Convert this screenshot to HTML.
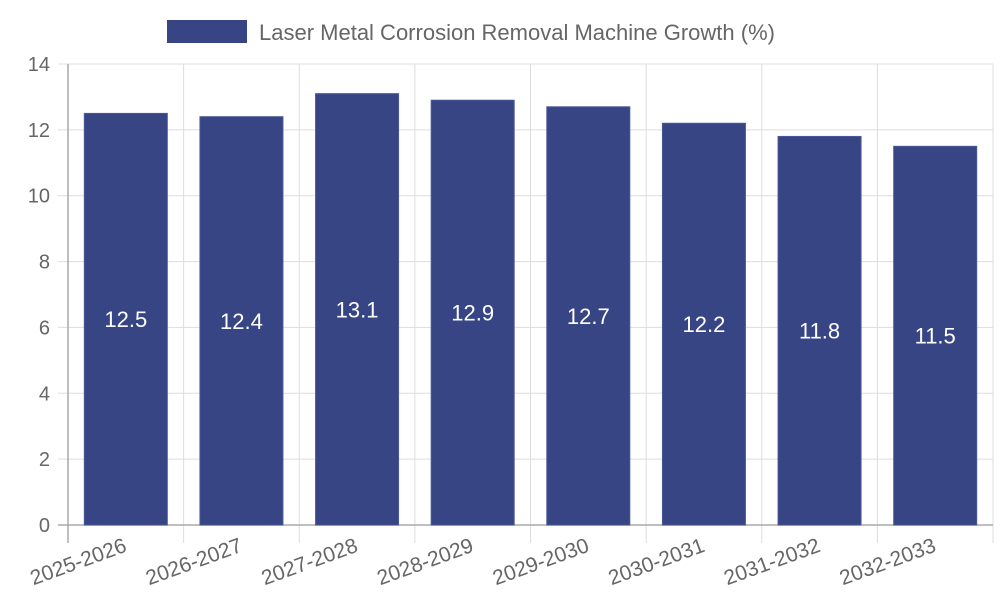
<!DOCTYPE html>
<html><head><meta charset="utf-8"><style>
html,body{margin:0;padding:0;background:#fff;}
svg{display:block;font-family:"Liberation Sans",sans-serif;}
</style></head><body>
<svg id="chart" width="1000" height="600">
<g>
<rect x="167" y="20" width="80" height="23" fill="#374584"/>
<text x="259" y="40" font-size="22" fill="#666">Laser Metal Corrosion Removal Machine Growth (%)</text>
</g>
<g id="grid"></g><g id="bars"></g><g id="labels"></g>
</svg>
<script>
const categories=["2025-2026","2026-2027","2027-2028","2028-2029","2029-2030","2030-2031","2031-2032","2032-2033"];
const values=[12.5,12.4,13.1,12.9,12.7,12.2,11.8,11.5];
const yTicks=[0,2,4,6,8,10,12,14];
const NS="http://www.w3.org/2000/svg";
const L=68,R=993,T=64,B=525,yMax=14;
const y=v=>B-(v/yMax)*(B-T);
const bw=(R-L)/categories.length;
const x=i=>L+i*bw;
function mk(tag,attrs,parent,text){const e=document.createElementNS(NS,tag);for(const k in attrs)e.setAttribute(k,attrs[k]);if(text!=null)e.textContent=text;document.getElementById(parent).appendChild(e);return e;}
yTicks.forEach(t=>{
 const g=mk("line",{x1:L-10,x2:R,y1:y(t),y2:y(t),stroke:"#ddd","stroke-width":1},"grid");
 
 
 const lb=mk("text",{x:L-18,y:y(t)+7,"text-anchor":"end","font-size":20,fill:"#666"},"labels",t);
 
 
});
for(let i=0;i<=categories.length;i++){
 const g=mk("line",{x1:x(i),x2:x(i),y1:T,y2:B+18,stroke:"#ddd","stroke-width":1},"grid");
 
 
}
const ax=mk("line",{x1:L,x2:L,y1:T,y2:B+18,stroke:"#aaa","stroke-width":1.5},"grid");


const ax2=mk("line",{x1:L-10,x2:R,y1:B,y2:B,stroke:"#aaa","stroke-width":1.5},"grid");


categories.forEach((c,i)=>{
 const v=values[i],cx=x(i)+bw/2,w=83;
 const r=mk("rect",{x:cx-w/2,y:y(v),width:w,height:B-y(v),fill:"#374584",stroke:"#4a5896","stroke-width":1},"bars");
 
 
 const vl=mk("text",{x:cx,y:(y(v)+B)/2+8,"text-anchor":"middle","font-size":22,fill:"#fff"},"labels",v);
 
 
 const xl=mk("text",{x:cx+2,y:B+26,"text-anchor":"end","font-size":21,fill:"#666",transform:`rotate(-20 ${cx+2} ${B+26})`},"labels",c);
 
 
});
</script>
</body></html>
